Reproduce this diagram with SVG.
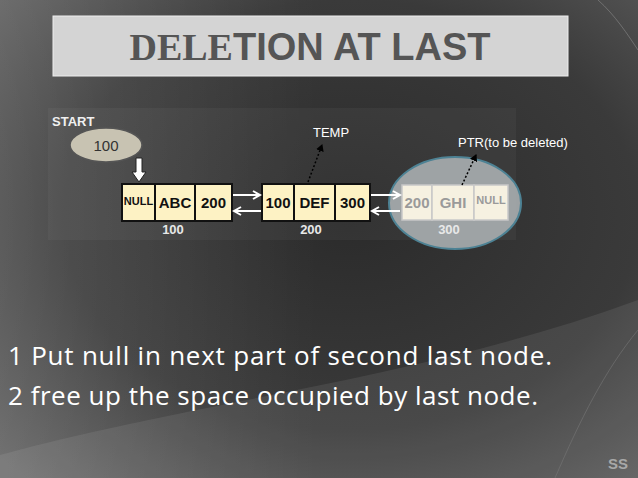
<svg xmlns="http://www.w3.org/2000/svg" width="638" height="478" viewBox="0 0 638 478">
<defs>
<radialGradient id="bg" cx="0.55" cy="0.45" r="0.75">
<stop offset="0" stop-color="#2b2b2b"/>
<stop offset="0.6" stop-color="#3a3a3a"/>
<stop offset="1" stop-color="#5e5e5e"/>
</radialGradient>
<linearGradient id="lft" x1="0" y1="0" x2="1" y2="0">
<stop offset="0" stop-color="#ffffff" stop-opacity="0.12"/>
<stop offset="0.5" stop-color="#ffffff" stop-opacity="0"/>
</linearGradient>
<marker id="dot" markerWidth="8" markerHeight="8" refX="6" refY="4" orient="auto" markerUnits="userSpaceOnUse">
<path d="M0,0 L7,4 L0,8 z" fill="#000"/>
</marker>
<marker id="wa" markerWidth="10" markerHeight="10" refX="8" refY="5" orient="auto" markerUnits="userSpaceOnUse">
<path d="M1,1 L8,5 L1,9" fill="none" stroke="#fff" stroke-width="2"/>
</marker>
<style>
.cell{fill:#fdf2c4;stroke:#111;stroke-width:2}
.fcell{fill:#f6f1e1;stroke:#c8c8c8;stroke-width:1.5}
.t{font-family:"Liberation Sans",Arial,sans-serif;font-weight:bold;font-size:15px;fill:#111;text-anchor:middle}
.ft{font-family:"Liberation Sans",Arial,sans-serif;font-weight:bold;font-size:15px;fill:#9a9a9a;text-anchor:middle}
.addr{font-family:"Liberation Sans",Arial,sans-serif;font-weight:bold;font-size:13px;fill:#e8e8e8;text-anchor:middle}
.lbl{font-family:"Liberation Sans",Arial,sans-serif;font-size:13px;fill:#fff}
.body{font-family:"Open Sans","Liberation Sans",sans-serif;font-size:26px;fill:#fff}
.wl{stroke:#fff;stroke-width:2;fill:none;marker-end:url(#wa)}
.dl{stroke:#000;stroke-width:1.5;stroke-dasharray:2,2;fill:none;marker-end:url(#dot)}
</style>
</defs>
<rect width="638" height="478" fill="url(#bg)"/>
<rect width="638" height="478" fill="url(#lft)"/>
<path d="M0,455 C200,400 420,380 638,300 L638,478 L0,478 z" fill="#ffffff" opacity="0.08"/>
<path d="M555,478 C580,420 605,370 638,330" stroke="#777" stroke-width="1" fill="none" opacity="0.6"/>
<path d="M598,0 C615,15 628,35 638,50" stroke="#888" stroke-width="1" fill="none" opacity="0.6"/>

<g id="title">
<rect x="53" y="16" width="515" height="60" fill="#d4d4d4" stroke="#eeeeee" stroke-width="1"/>
<text x="310" y="60" text-anchor="middle" font-size="38" font-weight="bold" fill="#555555"><tspan font-family="'Liberation Serif',serif">DELE</tspan><tspan font-family="'Liberation Sans',Arial,sans-serif">TION AT LAST</tspan></text>
</g>

<rect x="48" y="108" width="468" height="132" fill="#ffffff" opacity="0.04"/>

<g id="start">
<text x="52" y="126" font-family="'Liberation Sans',Arial,sans-serif" font-weight="bold" font-size="13" fill="#f0f0f0">START</text>
<ellipse cx="106" cy="145" rx="36" ry="17" fill="#c8c3b2" stroke="#555" stroke-width="1.5"/>
<text x="106" y="151" text-anchor="middle" font-family="'Liberation Sans',Arial,sans-serif" font-size="15" fill="#333">100</text>
<path d="M136,158 L142,158 L142,172 L146,172 L139,182 L132,172 L136,172 z" fill="#fff" stroke="#222" stroke-width="1"/>
</g>

<g id="ellipse300">
<ellipse cx="455" cy="203" rx="66" ry="46" fill="#b0b6b8" fill-opacity="0.85" stroke="#4d8294" stroke-width="2"/>
</g>

<g id="node100">
<rect class="cell" x="122" y="184" width="33" height="37"/>
<rect class="cell" x="155" y="184" width="40" height="37"/>
<rect class="cell" x="195" y="184" width="37" height="37"/>
<text class="t" x="138.5" y="205" style="font-size:11px">NULL</text>
<text class="t" x="175" y="208">ABC</text>
<text class="t" x="213.5" y="208">200</text>
<text class="addr" x="173" y="234">100</text>
</g>

<g id="node200">
<rect class="cell" x="262" y="184" width="32" height="37"/>
<rect class="cell" x="294" y="184" width="41" height="37"/>
<rect class="cell" x="335" y="184" width="35" height="37"/>
<text class="t" x="278" y="208">100</text>
<text class="t" x="314.5" y="208">DEF</text>
<text class="t" x="352.5" y="208">300</text>
<text class="addr" x="311" y="234">200</text>
</g>

<g id="node300">
<rect class="fcell" x="402" y="185" width="30" height="35"/>
<rect class="fcell" x="432" y="185" width="42" height="35"/>
<rect class="fcell" x="474" y="185" width="34" height="35"/>
<text class="ft" x="417" y="208">200</text>
<text class="ft" x="453" y="208">GHI</text>
<text class="ft" x="491" y="204" style="font-size:11px">NULL</text>
<text class="addr" x="449" y="234">300</text>
</g>

<g id="temp">
<text class="lbl" x="313" y="137">TEMP</text>
</g>
<g id="ptr">
<text class="lbl" x="458" y="147">PTR(to be deleted)</text>
</g>

<g id="connectors">
<line class="wl" x1="233" y1="195" x2="260" y2="195"/>
<line class="wl" x1="261" y1="211" x2="234" y2="211"/>
<line class="wl" x1="371" y1="195" x2="400" y2="195"/>
<line class="wl" x1="400" y1="211" x2="372" y2="211"/>
<line class="dl" x1="308" y1="182" x2="322" y2="145"/>
<line class="dl" x1="462" y1="185" x2="476" y2="155"/>
</g>

<g id="steps">
<text class="body" x="8" y="365" textLength="544" lengthAdjust="spacing">1 Put null in next part of second last node.</text>
<text class="body" x="8" y="405" textLength="530" lengthAdjust="spacing">2 free up the space occupied by last node.</text>
<text x="608" y="469" font-family="'Liberation Sans',Arial,sans-serif" font-weight="bold" font-size="15" fill="#a8a8a8">SS</text>
</g>
</svg>
